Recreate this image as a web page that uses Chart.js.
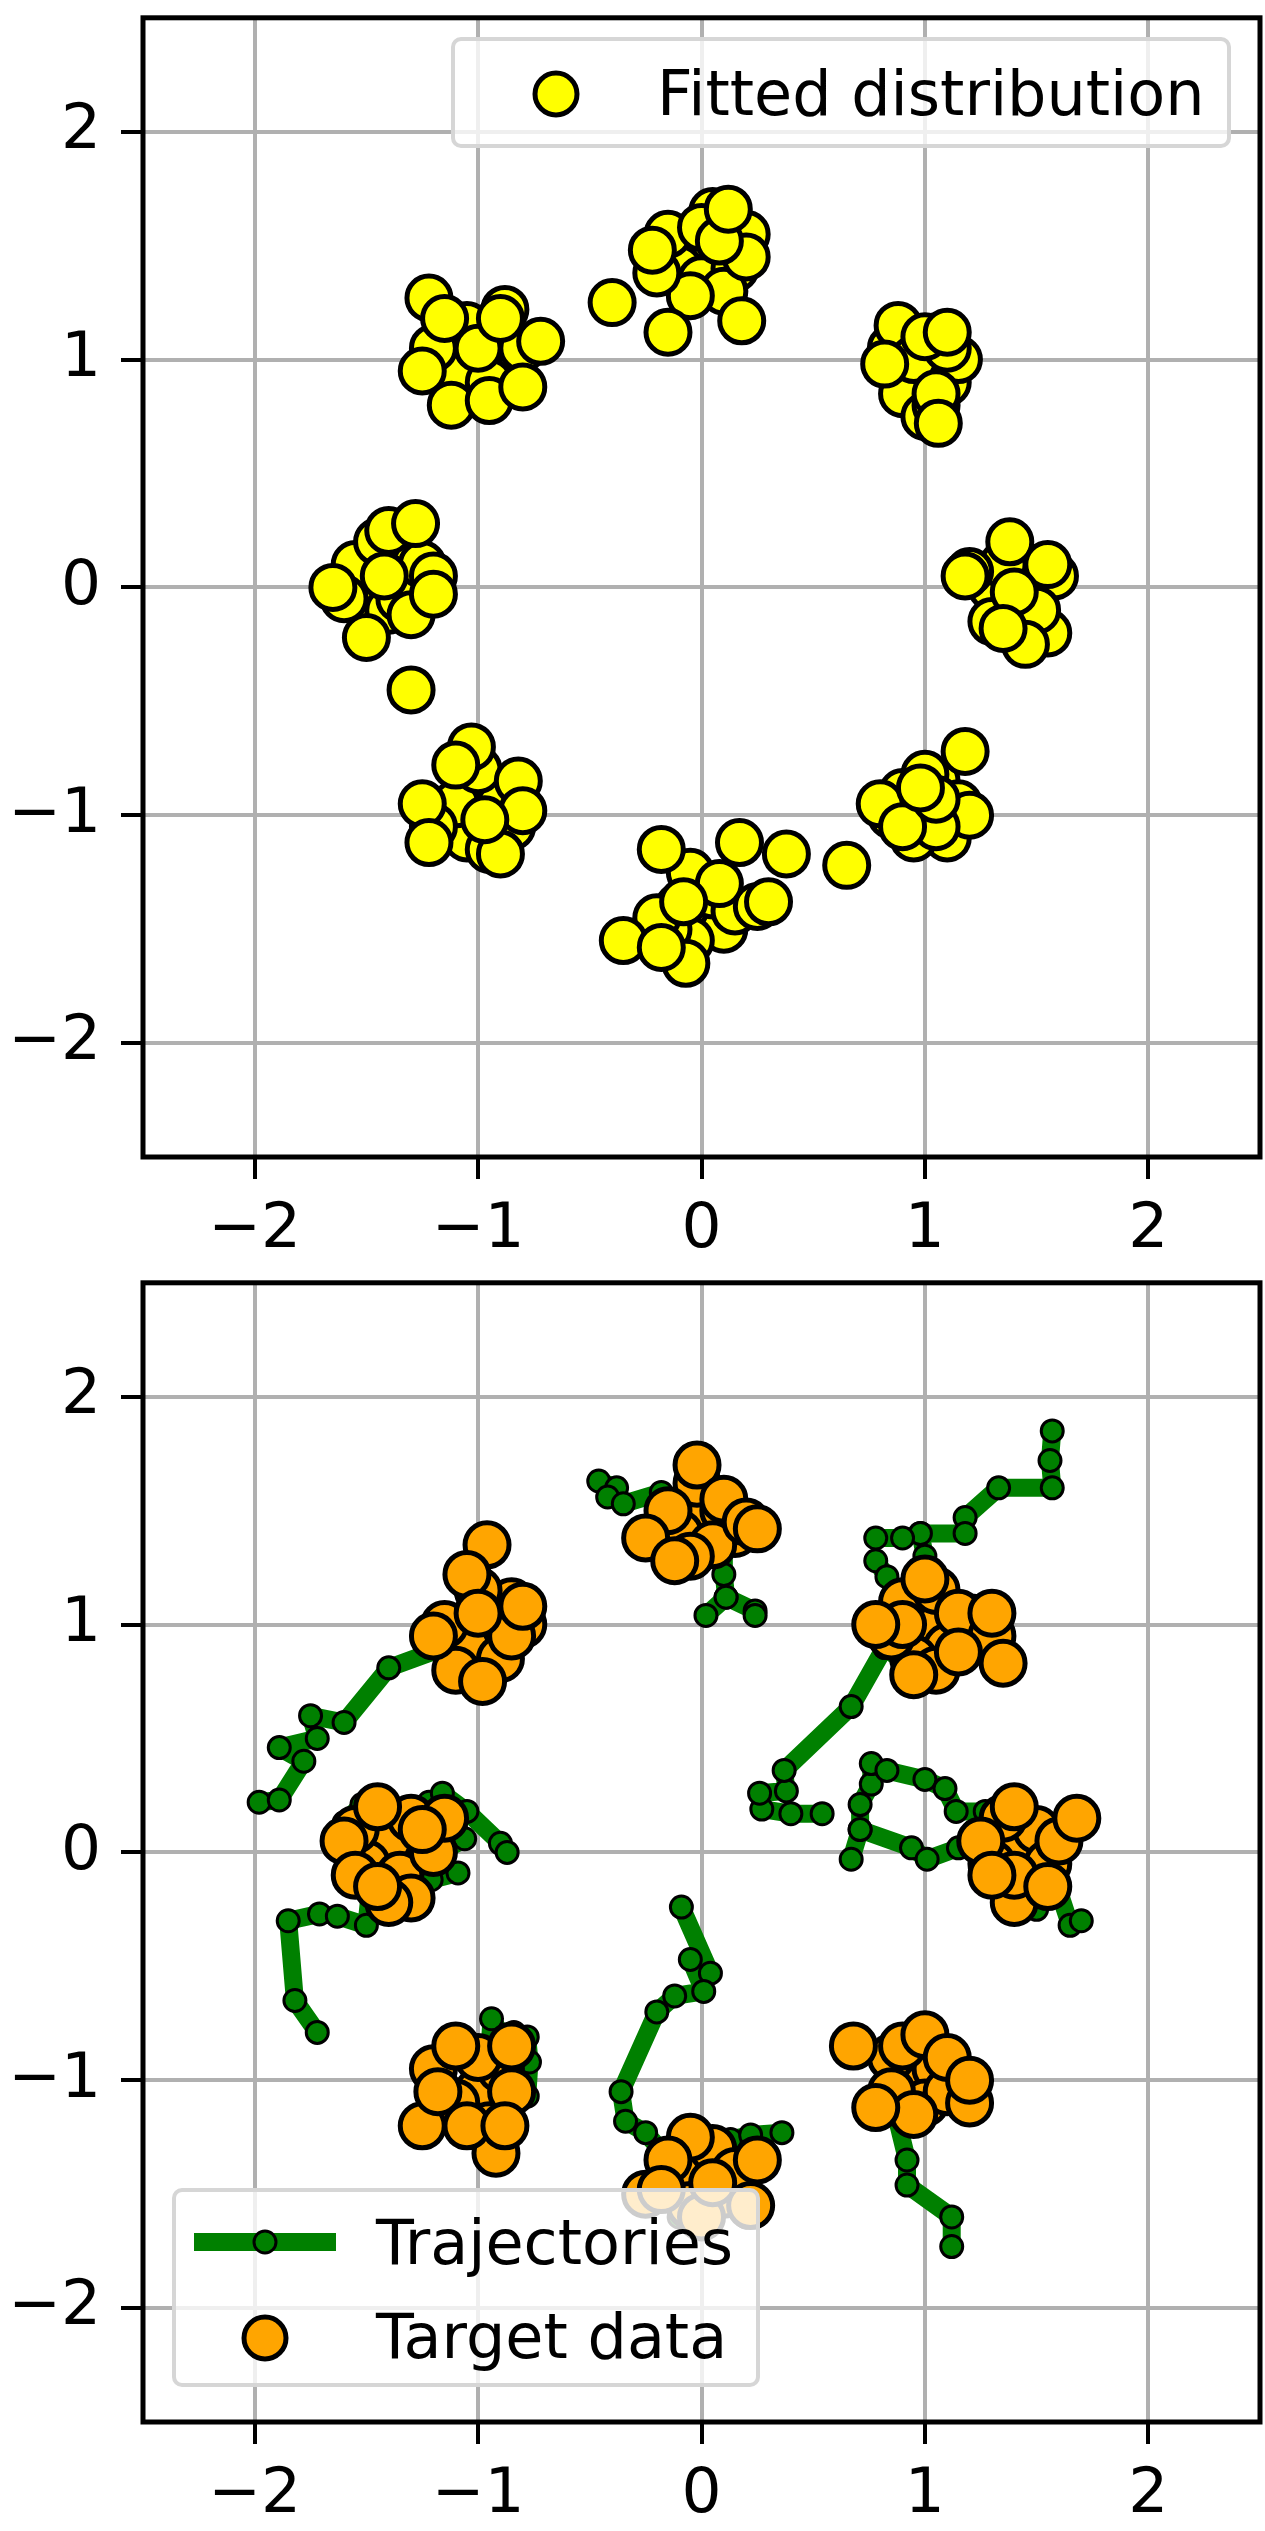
<!DOCTYPE html>
<html><head><meta charset="utf-8">
<script src="https://cdn.jsdelivr.net/npm/chart.js@4"></script>
<style>
body{margin:0;background:#fff;width:1265px;height:2531px;position:relative;font-family:"DejaVu Sans";overflow:hidden;}
canvas{position:absolute;left:0;width:1287px;height:1297px;}
.leg{position:absolute;box-sizing:border-box;background:rgba(255,255,255,0.8);border:4px solid #d6d6d6;border-radius:10px;font-size:62px;color:#000;}
.row{position:absolute;white-space:nowrap;line-height:1;}
</style></head><body>
<canvas id="c1" width="1287" height="1297" style="top:-40px"></canvas>
<canvas id="c2" width="1287" height="1297" style="top:1225px"></canvas>
<div class="leg" style="left:451px;top:37px;width:780px;height:111px">
 <svg style="position:absolute;left:76px;top:28px" width="50" height="50"><circle cx="25" cy="25" r="21" fill="#ffff00" stroke="#000" stroke-width="5"/></svg>
 <div class="row" style="left:202px;top:22px">Fitted distribution</div>
</div>
<div class="leg" style="left:172px;top:2188px;width:588px;height:199px">
 <svg style="position:absolute;left:14px;top:30px" width="150" height="40"><line x1="4" y1="20" x2="146" y2="20" stroke="#008000" stroke-width="18"/><circle cx="75" cy="20" r="11" fill="#008000" stroke="#000" stroke-width="3"/></svg>
 <div class="row" style="left:200px;top:20px">Trajectories</div>
 <svg style="position:absolute;left:64px;top:121px" width="50" height="50"><circle cx="25" cy="25" r="21" fill="#ffa500" stroke="#000" stroke-width="5"/></svg>
 <div class="row" style="left:200px;top:114px">Target data</div>
</div>
<script>
const ticks = [-2,-1,0,1,2];
const fitted = [
[0.05,1.45],[-0.05,1.5],[0.1,1.6],[0.2,1.55],[-0.1,1.4],[0.0,1.35],[0.15,1.4],[-0.15,1.55],[0.05,1.65],[0.1,1.3],[-0.05,1.28],[0.2,1.45],[-0.2,1.38],[0.0,1.58],[0.08,1.52],[-0.4,1.25],[0.18,1.17],[-0.15,1.12],[0.12,1.66],[-0.22,1.48],
[0.95,0.95],[0.85,1.05],[1.05,1.1],[1.1,0.9],[0.9,0.85],[1.0,0.75],[1.15,1.0],[0.88,1.15],[1.05,0.8],[0.95,1.0],[1.1,1.05],[0.82,0.98],[1.0,1.1],[1.05,0.85],[1.1,1.12],[1.06,0.72],
[1.4,-0.05],[1.5,0.05],[1.3,0.0],[1.45,-0.15],[1.55,-0.2],[1.35,0.1],[1.38,0.2],[1.58,0.05],[1.5,-0.1],[1.3,-0.15],[1.45,-0.25],[1.55,0.1],[1.2,0.07],[1.18,0.05],[1.4,-0.02],[1.35,-0.18],
[1.0,-1.0],[0.9,-0.9],[1.05,-0.85],[1.1,-1.1],[0.85,-1.0],[0.95,-1.1],[1.15,-0.95],[1.2,-1.0],[0.8,-0.95],[1.05,-1.05],[1.0,-0.82],[1.18,-0.72],[0.9,-1.05],[0.65,-1.22],[1.05,-0.93],[0.98,-0.88],
[0.0,-1.45],[-0.1,-1.4],[0.1,-1.5],[0.05,-1.35],[-0.05,-1.55],[0.15,-1.42],[-0.15,-1.5],[-0.07,-1.65],[0.25,-1.4],[-0.05,-1.25],[0.08,-1.3],[-0.2,-1.45],[0.17,-1.12],[0.38,-1.17],[-0.18,-1.15],[-0.35,-1.55],[-0.18,-1.58],[-0.08,-1.38],[0.3,-1.38],
[-1.0,-1.0],[-0.9,-0.95],[-1.05,-1.1],[-0.95,-1.15],[-1.1,-0.95],[-0.85,-1.05],[-1.2,-1.05],[-1.0,-0.8],[-1.03,-0.7],[-0.82,-0.85],[-1.25,-0.95],[-1.22,-1.12],[-1.1,-0.78],[-0.9,-1.17],[-0.8,-0.98],[-0.97,-1.02],
[-1.45,0.05],[-1.35,0.15],[-1.5,-0.05],[-1.4,-0.1],[-1.55,0.1],[-1.3,0.0],[-1.45,0.2],[-1.6,-0.05],[-1.35,-0.05],[-1.25,0.1],[-1.4,0.25],[-1.5,-0.22],[-1.65,0.0],[-1.2,0.05],[-1.28,0.28],[-1.3,-0.45],[-1.42,0.05],[-1.3,-0.12],[-1.2,-0.03],
[-1.0,1.0],[-0.9,1.1],[-1.1,0.95],[-0.95,0.9],[-1.05,1.15],[-0.88,1.22],[-1.2,1.05],[-1.25,0.95],[-0.8,1.05],[-0.72,1.08],[-1.22,1.27],[-1.15,1.18],[-1.12,0.8],[-0.95,0.82],[-0.8,0.88],[-1.0,1.05],[-0.9,1.18]
];
const target = [
[0.0,1.45],[-0.1,1.4],[0.1,1.5],[-0.02,1.62],[-0.15,1.5],[0.15,1.4],[0.05,1.35],[-0.05,1.3],[-0.02,1.7],[0.1,1.55],[-0.25,1.38],[0.2,1.45],[-0.12,1.28],[0.25,1.42],
[1.0,1.0],[0.9,1.1],[1.1,0.9],[0.95,0.85],[1.05,1.15],[0.85,0.95],[1.15,1.05],[1.3,0.95],[1.3,1.05],[1.05,0.8],[0.9,1.0],[1.0,1.2],[1.35,0.83],[0.78,1.0],[0.95,0.78],[1.15,0.88],
[1.4,0.0],[1.5,0.1],[1.3,-0.05],[1.45,-0.15],[1.55,-0.05],[1.35,0.15],[1.6,0.05],[1.4,0.2],[1.25,0.05],[1.4,-0.22],[1.68,0.15],[1.4,-0.1],[1.3,-0.1],[1.55,-0.15],
[0.95,-1.0],[0.85,-0.9],[1.05,-0.95],[1.0,-1.1],[0.85,-1.05],[1.1,-1.05],[0.9,-0.85],[1.0,-0.8],[1.2,-1.1],[0.68,-0.85],[0.95,-1.15],[1.1,-0.9],[0.78,-1.12],[1.2,-1.0],
[0.0,-1.45],[-0.1,-1.4],[0.1,-1.5],[0.05,-1.3],[-0.05,-1.55],[0.15,-1.4],[-0.25,-1.5],[0.0,-1.6],[0.22,-1.55],[-0.05,-1.25],[-0.15,-1.35],[0.05,-1.45],[0.25,-1.35],[-0.18,-1.48],
[-1.0,-1.05],[-0.9,-0.95],[-1.1,-1.1],[-0.95,-1.2],[-1.2,-0.95],[-0.85,-1.05],[-1.25,-1.2],[-1.0,-0.9],[-0.92,-1.32],[-1.1,-0.85],[-1.18,-1.05],[-0.85,-0.85],[-1.05,-1.2],[-0.88,-1.2],
[-1.4,0.05],[-1.3,0.15],[-1.5,-0.05],[-1.35,-0.1],[-1.55,0.1],[-1.2,0.0],[-1.45,0.2],[-1.6,0.05],[-1.3,-0.2],[-1.15,0.15],[-1.4,-0.22],[-1.25,0.1],[-1.55,-0.1],[-1.45,-0.15],
[-0.95,1.0],[-0.85,1.1],[-1.05,0.9],[-0.9,0.85],[-1.0,1.15],[-0.8,1.0],[-1.15,1.0],[-1.1,0.8],[-0.96,1.35],[-1.05,1.22],[-0.85,0.95],[-1.0,1.05],[-1.2,0.95],[-0.98,0.75],[-0.8,1.08]
];
const trajectories = [
[[1.57,1.85],[1.56,1.72],[1.57,1.6],[1.33,1.6],[1.18,1.47],[1.18,1.4],[0.98,1.4],[0.9,1.38],[0.78,1.38]],
[[0.98,1.4],[1.0,1.3],[1.13,1.06],[1.22,1.08]],
[[0.78,1.28],[0.83,1.21],[0.9,1.12],[0.89,1.03],[0.98,1.05],[0.96,0.88],[0.82,0.9],[0.94,0.81]],
[[0.54,0.17],[0.4,0.17],[0.27,0.19],[0.26,0.26],[0.38,0.27],[0.37,0.36],[0.67,0.64],[0.82,0.9]],
[[0.67,-0.03],[0.71,0.1],[0.71,0.21],[0.76,0.3],[0.76,0.39],[0.83,0.36],[1.0,0.32],[1.09,0.28],[1.14,0.18],[1.27,0.18],[1.36,0.19],[1.45,0.06],[1.55,0.0],[1.61,0.09],[1.59,-0.14],[1.65,-0.32],[1.7,-0.3]],
[[0.71,0.1],[0.94,0.02],[1.01,-0.03],[1.15,0.02],[1.23,0.08],[1.3,0.0],[1.36,-0.1],[1.48,-0.1],[1.39,-0.25],[1.5,-0.25]],
[[1.12,-1.73],[1.12,-1.6],[0.92,-1.46],[0.92,-1.35],[0.87,-1.15],[0.85,-1.06],[0.9,-0.92],[1.02,-1.0]],
[[0.85,-1.06],[0.75,-1.15]],
[[-0.09,-0.24],[0.04,-0.53],[-0.05,-0.47],[0.01,-0.61],[-0.12,-0.63],[-0.2,-0.7],[-0.36,-1.05],[-0.34,-1.18],[-0.25,-1.23],[-0.18,-1.31],[-0.17,-1.42],[-0.04,-1.27],[0.04,-1.3],[0.04,-1.4],[0.13,-1.26],[0.22,-1.24],[0.36,-1.23]],
[[-0.1,-1.6],[-0.02,-1.52],[0.05,-1.58],[0.15,-1.55],[0.2,-1.6]],
[[-0.78,-1.07],[-0.77,-0.92],[-0.78,-0.81],[-0.84,-0.79],[-0.85,-0.87],[-0.94,-0.73],[-0.95,-0.88]],
[[-1.72,-0.79],[-1.82,-0.65],[-1.85,-0.3],[-1.71,-0.27],[-1.63,-0.28],[-1.5,-0.32],[-1.48,-0.13],[-1.49,-0.01],[-1.4,0.15],[-1.31,0.08],[-1.22,0.22],[-1.16,0.26],[-1.05,0.18],[-0.9,0.04],[-0.87,0.0]],
[[-1.6,0.13],[-1.52,0.21],[-1.4,0.15],[-1.27,0.18],[-1.17,0.24],[-1.06,0.06],[-1.22,-0.03],[-1.21,-0.12],[-1.09,-0.09]],
[[-1.98,0.22],[-1.89,0.23],[-1.78,0.4],[-1.89,0.46],[-1.72,0.5],[-1.75,0.6],[-1.6,0.57],[-1.4,0.81],[-1.01,0.95],[-0.95,1.06],[-1.12,1.02]],
[[-0.46,1.63],[-0.38,1.6],[-0.42,1.56],[-0.35,1.53],[-0.18,1.58],[-0.17,1.31],[-0.06,1.33],[-0.03,1.41],[0.09,1.39],[0.1,1.51],[0.1,1.22],[0.11,1.12],[0.02,1.04]],
[[0.11,1.12],[0.24,1.06],[0.24,1.04]]
];
function pts(a){return a.map(p=>({x:p[0],y:p[1]}));}
const frame={id:'frame',afterDraw(c){const a=c.chartArea,x=c.ctx;x.save();x.strokeStyle='#000';x.lineWidth=5;x.strokeRect(a.left,a.top,a.right-a.left,a.bottom-a.top);x.restore();}};
function axis(){return {min:-2.5,max:2.5,
 afterBuildTicks(s){s.ticks=ticks.map(v=>({value:v}));},
 grid:{color:'#b0b0b0',lineWidth:4,tickLength:22,tickColor:'#000',tickWidth:4},
 border:{display:false},
 ticks:{color:'#000',font:{family:'DejaVu Sans',size:63},maxRotation:0,autoSkip:false,
  callback:v=>v<0?'\u2212'+Math.abs(v):String(v)}};}
function make(id,datasets){
 const xs=axis(),ys=axis();
 xs.ticks.padding=14; ys.ticks.padding=20;
 xs.afterFit=s=>{s.height=100;};
 ys.afterFit=s=>{s.width=143;};
 new Chart(document.getElementById(id),{type:'scatter',data:{datasets},plugins:[frame],
  options:{responsive:false,devicePixelRatio:1,animation:false,
   layout:{padding:{top:4,right:3,left:0,bottom:0}},
   plugins:{legend:{display:false},tooltip:{enabled:false}},
   scales:{x:xs,y:ys}}});
}
make('c1',[{data:pts(fitted),backgroundColor:'#ffff00',borderColor:'#000',borderWidth:5,pointRadius:22}]);
const ds2=[{data:pts(target),backgroundColor:'#ffa500',borderColor:'#000',borderWidth:5,pointRadius:22}];
trajectories.forEach(t=>ds2.push({data:pts(t),showLine:true,borderColor:'#008000',borderWidth:18,borderJoinStyle:'round',backgroundColor:'#008000',pointBorderColor:'#000',pointBorderWidth:3,pointRadius:11}));
make('c2',ds2);
</script></body></html>
